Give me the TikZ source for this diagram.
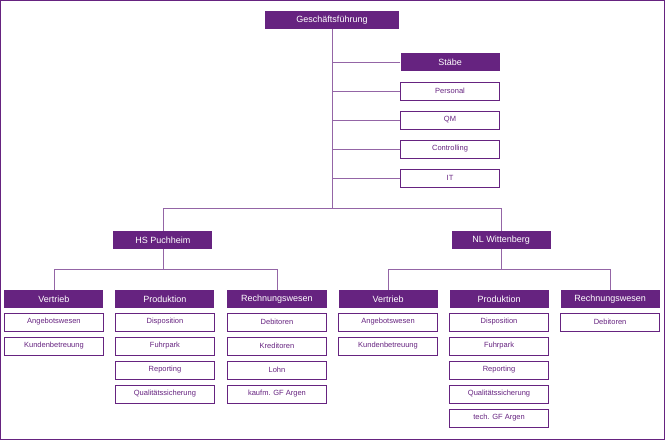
\documentclass[tikz,border=0pt]{standalone}
\usepackage{fontspec}
\setmainfont{Liberation Sans}
\definecolor{lila}{RGB}{102,35,128}
\begin{document}
\begin{tikzpicture}[x=1pt,y=-1pt,%
    head/.style={fill=lila,text=white,minimum width=99pt,minimum height=18pt,inner sep=0pt,font=\fontsize{9}{10}\selectfont},
    unit/.style={draw=lila,thick,fill=white,text=lila,minimum width=99pt,minimum height=18pt,inner sep=0pt,font=\fontsize{7.5}{9}\selectfont},
    line/.style={draw=lila!70,thick}
  ]
	\draw[lila,thick] (0.5,0.5) rectangle (664.5,439.5);

	\node at (332,20) [head,minimum width=133pt] (gf) {Geschäftsführung};
	\node at (450,62) [head] (st) {Stäbe};
	\node at (450,91) [unit] (st1) {Personal};
	\node at (450,120) [unit] (st2) {QM};
	\node at (450,149) [unit] (st3) {Controlling};
	\node at (450,178) [unit] (st4) {IT};
	\coordinate (gfb) at (332,208);
	\draw[line] (gf) -- (gfb);
	\foreach \n in {st,st1,st2,st3,st4}
		\draw[line] (\n.west) -- (\n.west -| gf);

	\node at (163,240) [head] (hs) {HS Puchheim};
	\node at (501,240) [head] (nl) {NL Wittenberg};
	\draw[line] (hs) |- (gfb) -| (nl);

	% HS Puchheim
	\node at (54,299) [head] (hv) {Vertrieb};
	\node at (165,299) [head] (hp) {Produktion};
	\node at (277,299) [head] (hr) {Rechnungswesen};
	\coordinate (hsb) at (163,269);
	\draw[line] (hs) -- (hsb);
	\draw[line] (hv) |- (hsb) -| (hr);
	\node at (54,322) [unit] (hv1) {Angebotswesen};
	\node at (54,346) [unit] (hv2) {Kundenbetreuung};
	\node at (165,322) [unit] (hp1) {Disposition};
	\node at (165,346) [unit] (hp2) {Fuhrpark};
	\node at (165,370) [unit] (hp3) {Reporting};
	\node at (165,394) [unit] (hp4) {Qualitätssicherung};
	\node at (277,322) [unit] (hr1) {Debitoren};
	\node at (277,346) [unit] (hr2) {Kreditoren};
	\node at (277,370) [unit] (hr3) {Lohn};
	\node at (277,394) [unit] (hr4) {kaufm. GF Argen};

	% NL Wittenberg
	\node at (388,299) [head] (nv) {Vertrieb};
	\node at (499,299) [head] (np) {Produktion};
	\node at (610,299) [head] (nr) {Rechnungswesen};
	\coordinate (nlb) at (501,269);
	\draw[line] (nl) -- (nlb);
	\draw[line] (nv) |- (nlb) -| (nr);
	\node at (388,322) [unit] (nv1) {Angebotswesen};
	\node at (388,346) [unit] (nv2) {Kundenbetreuung};
	\node at (499,322) [unit] (np1) {Disposition};
	\node at (499,346) [unit] (np2) {Fuhrpark};
	\node at (499,370) [unit] (np3) {Reporting};
	\node at (499,394) [unit] (np4) {Qualitätssicherung};
	\node at (499,418) [unit] (np5) {tech. GF Argen};
	\node at (610,322) [unit] (nr1) {Debitoren};
\end{tikzpicture}
\end{document}
